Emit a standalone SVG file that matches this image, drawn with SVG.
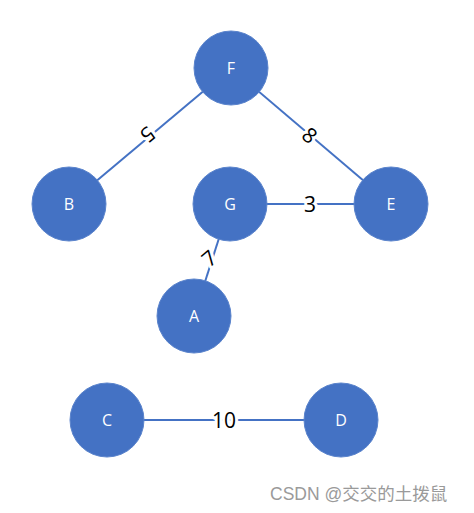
<svg xmlns="http://www.w3.org/2000/svg" width="474" height="513" viewBox="0 0 474 513">
<style>
.node circle{fill:#4472C4;stroke:#5B84CC;stroke-width:1}
.node text{fill:#fff;font-family:"Open Sans","Liberation Sans",sans-serif;font-size:16px;text-anchor:middle;dominant-baseline:central}
.edges line{stroke:#4472C4;stroke-width:2}
.lbl{fill:#000;font-family:"Open Sans","Liberation Sans",sans-serif;font-size:21px;text-anchor:middle;dominant-baseline:central;stroke:#fff;stroke-width:6;paint-order:stroke;stroke-linejoin:round}
.wm{fill:#9a9a9a;font-family:"Liberation Sans","Noto Sans CJK SC",sans-serif;font-size:17.5px}
</style>
<rect width="474" height="513" fill="#fff"/>
<g id="edges" class="edges">
<line x1="231" y1="68" x2="69" y2="204"/>
<line x1="231" y1="68" x2="391" y2="204"/>
<line x1="230" y1="204" x2="391" y2="204"/>
<line x1="230" y1="204" x2="194" y2="316"/>
<line x1="107" y1="420" x2="341" y2="420"/>
<text class="lbl" transform="translate(148,135) rotate(140)">5</text>
<text class="lbl" transform="translate(310,135) rotate(40)">8</text>
<text class="lbl" x="310" y="204">3</text>
<text class="lbl" transform="translate(209,258) rotate(-40)">7</text>
<text class="lbl" x="224" y="420">10</text>
</g>
<g id="F" class="node"><circle cx="231" cy="68" r="37"/><text x="231" y="68">F</text></g>
<g id="B" class="node"><circle cx="69" cy="204" r="37"/><text x="69" y="204">B</text></g>
<g id="G" class="node"><circle cx="230" cy="204" r="37"/><text x="230" y="204">G</text></g>
<g id="E" class="node"><circle cx="391" cy="204" r="37"/><text x="391" y="204">E</text></g>
<g id="A" class="node"><circle cx="194" cy="316" r="37"/><text x="194" y="316">A</text></g>
<g id="C" class="node"><circle cx="107" cy="420" r="37"/><text x="107" y="420">C</text></g>
<g id="D" class="node"><circle cx="341" cy="420" r="37"/><text x="341" y="420">D</text></g>
<text class="wm" x="270" y="500">CSDN @交交的土拨鼠</text>
</svg>
